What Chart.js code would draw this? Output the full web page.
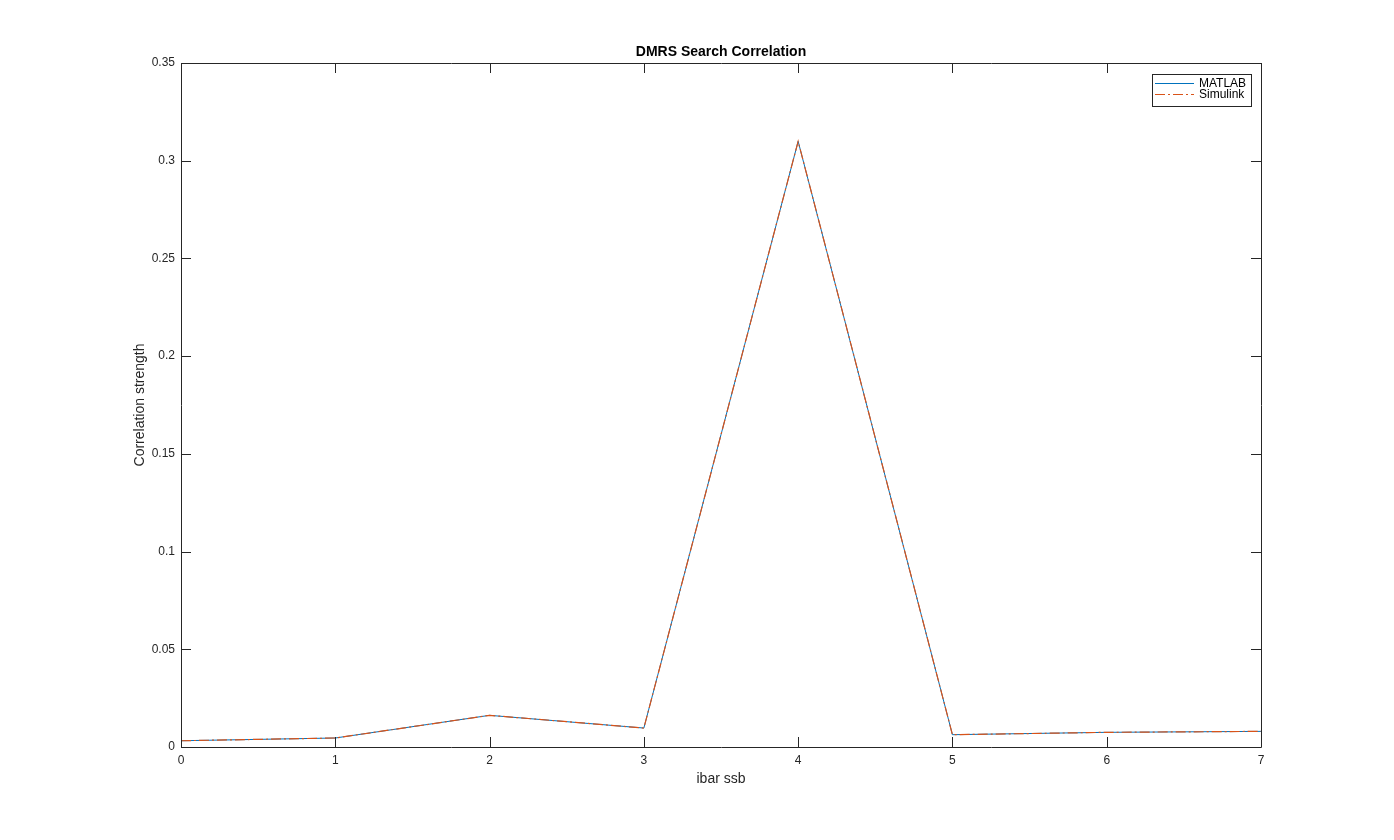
<!DOCTYPE html>
<html>
<head>
<meta charset="utf-8">
<script src="https://cdn.jsdelivr.net/npm/chart.js@4/dist/chart.umd.min.js"></script>
<style>
  html, body { margin: 0; padding: 0; background: #fff; }
  canvas { display: block; }
</style>
</head>
<body>
<canvas id="corrChart" width="1394" height="840"></canvas>
<script>
// values
var ibarSsb = [0, 1, 2, 3, 4, 5, 6, 7];
var matlabCorr = [0.0032, 0.0046, 0.0162, 0.0097, 0.3099, 0.0063, 0.0075, 0.0080];
var simulinkCorr = [0.0032, 0.0046, 0.0162, 0.0097, 0.3099, 0.0063, 0.0075, 0.0080];
var xTickLabels = ['0', '1', '2', '3', '4', '5', '6', '7'];
var yTickLabels = ['0', '0.05', '0.1', '0.15', '0.2', '0.25', '0.3', '0.35'];
var plotTitle = 'DMRS Search Correlation';

var fontFam = '"Liberation Sans", Arial, Helvetica, sans-serif';

function toPoints(xs, ys) {
    return xs.map(function(x, i) { return { x: x, y: ys[i] }; });
}

// box around the axes, inward tick marks, title over the axes, legend box
var matlabAxes = {
    id: 'matlabAxes',
    beforeDraw: function(chart) {
        var c = chart.ctx;
        c.save();
        c.fillStyle = '#fff';
        c.fillRect(0, 0, chart.width, chart.height);
        c.restore();
    },
    afterDraw: function(chart) {
        var c = chart.ctx;
        var a = chart.chartArea;
        var xs = chart.scales.x, ys = chart.scales.y;
        var tl = 10;
        c.save();
        c.strokeStyle = '#262626';
        c.lineWidth = 1;
        c.beginPath();
        c.rect(Math.round(a.left) + 0.5, Math.round(a.top) + 0.5, Math.round(a.right - a.left), Math.round(a.bottom - a.top));
        c.stroke();
        c.beginPath();
        xs.ticks.forEach(function(t) {
            var px = Math.round(xs.getPixelForValue(t.value)) + 0.5;
            c.moveTo(px, a.bottom); c.lineTo(px, a.bottom - tl);
            c.moveTo(px, a.top); c.lineTo(px, a.top + tl);
        });
        ys.ticks.forEach(function(t) {
            var py = Math.round(ys.getPixelForValue(t.value)) + 0.5;
            c.moveTo(a.left, py); c.lineTo(a.left + tl, py);
            c.moveTo(a.right, py); c.lineTo(a.right - tl, py);
        });
        c.stroke();

        // title, centred over the axes
        c.fillStyle = '#000';
        c.font = 'bold 14px ' + fontFam;
        c.textAlign = 'center';
        c.textBaseline = 'middle';
        c.fillText(plotTitle, (a.left + a.right) / 2, a.top - 11);

        // legend
        var bx = a.right - 109, by = a.top + 11, bw = 99, bh = 32;
        c.fillStyle = '#fff';
        c.fillRect(bx, by, bw, bh);
        c.strokeStyle = '#262626';
        c.strokeRect(Math.round(bx) + 0.5, Math.round(by) + 0.5, bw, bh);
        c.font = '12px ' + fontFam;
        c.textBaseline = 'middle';
        c.textAlign = 'left';
        chart.data.datasets.forEach(function(ds, i) {
            var ly = Math.round(by + 9 + i * 11) + 0.5;
            c.strokeStyle = ds.borderColor;
            c.lineWidth = 1.2;
            c.setLineDash(ds.borderDash || []);
            c.beginPath();
            c.moveTo(bx + 3, ly); c.lineTo(bx + 42, ly);
            c.stroke();
            c.setLineDash([]);
            c.fillStyle = '#000';
            c.fillText(ds.label, bx + 47, ly + 0.5);
        });
        c.restore();
    }
};

document.addEventListener('DOMContentLoaded', function() {
    var ctx = document.getElementById('corrChart').getContext('2d');
    new Chart(ctx, {
        type: 'line',
        data: {
            datasets: [{
                label: 'MATLAB',
                data: toPoints(ibarSsb, matlabCorr),
                borderColor: '#0072BD',
                borderWidth: 1,
                pointRadius: 0,
                tension: 0,
                fill: false,
                order: 2
            }, {
                label: 'Simulink',
                data: toPoints(ibarSsb, simulinkCorr),
                borderColor: '#D95319',
                borderWidth: 1.2,
                borderDash: [10, 3, 2, 3],
                pointRadius: 0,
                tension: 0,
                fill: false,
                order: 1
            }]
        },
        options: {
            responsive: false,
            animation: false,
            layout: {
                padding: { top: 63, left: 0, right: 133, bottom: 0 }
            },
            plugins: {
                legend: { display: false },
                tooltip: { enabled: false },
                title: { display: false }
            },
            scales: {
                x: {
                    type: 'linear',
                    min: 0,
                    max: 7,
                    grid: { display: false, drawTicks: false },
                    border: { display: false },
                    afterFit: function(s) { s.height = 93; },
                    ticks: {
                        stepSize: 1,
                        padding: 6,
                        maxRotation: 0,
                        color: '#262626',
                        font: { family: fontFam, size: 12 },
                        callback: function(v) { return xTickLabels[Math.round(v)]; }
                    },
                    title: {
                        display: true,
                        text: 'ibar ssb',
                        color: '#262626',
                        font: { family: fontFam, size: 14 },
                        padding: { top: 0, bottom: 52 }
                    }
                },
                y: {
                    type: 'linear',
                    min: 0,
                    max: 0.35,
                    grid: { display: false, drawTicks: false },
                    border: { display: false },
                    afterFit: function(s) { s.width = 181; },
                    ticks: {
                        stepSize: 0.05,
                        padding: 6,
                        color: '#262626',
                        font: { family: fontFam, size: 12 },
                        callback: function(v) { return yTickLabels[Math.round(v / 0.05)]; }
                    },
                    title: {
                        display: true,
                        text: 'Correlation strength',
                        color: '#262626',
                        font: { family: fontFam, size: 14 },
                        padding: { top: 132, bottom: 0 }
                    }
                }
            }
        },
        plugins: [matlabAxes]
    });
});
</script>
</body>
</html>
